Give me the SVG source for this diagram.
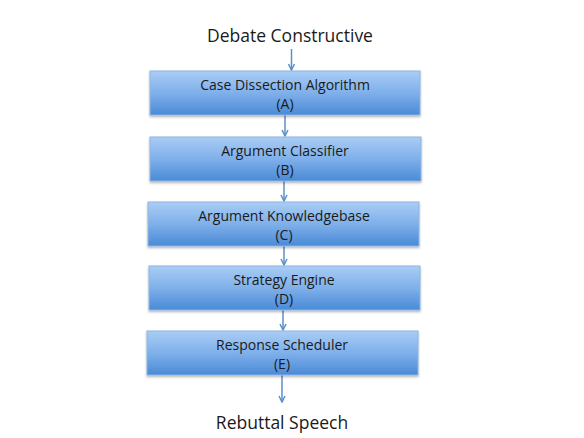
<svg xmlns="http://www.w3.org/2000/svg" width="584" height="438" viewBox="0 0 584 438">
<defs>
<linearGradient id="g" x1="0" y1="0" x2="0" y2="1">
<stop offset="0" stop-color="#a9cdf5"/>
<stop offset="0.5" stop-color="#7fb0ea"/>
<stop offset="1" stop-color="#4a8ad6"/>
</linearGradient>
<filter id="sh" x="-5%" y="-10%" width="110%" height="130%">
<feDropShadow dx="0" dy="1.5" stdDeviation="1" flood-color="#000" flood-opacity="0.3"/>
</filter>
<marker id="ah" markerWidth="8" markerHeight="8" refX="7" refY="4" orient="auto" markerUnits="userSpaceOnUse">
<path d="M1,1 L7,4 L1,7" fill="none" stroke="#5b8fc9" stroke-width="1.5"/>
</marker>
</defs>
<style>
.box{fill:url(#g);stroke:#8db5e4;stroke-width:1;filter:url(#sh)}
.t{font-family:"Open Sans","Liberation Sans",sans-serif;font-size:14px;fill:#1a1a1a;text-anchor:middle}
.big{font-family:"Open Sans","Liberation Sans",sans-serif;font-size:17.5px;fill:#1a1a1a;text-anchor:middle}
.c{stroke:#5b8fc9;stroke-width:1.5;fill:none;marker-end:url(#ah)}
</style>
<rect width="584" height="438" fill="#fff"/>
<g id="connectors">
<line class="c" x1="291.5" y1="49" x2="291.5" y2="70"/>
<line class="c" x1="285" y1="115" x2="285" y2="136"/>
<line class="c" x1="284" y1="181" x2="284" y2="201"/>
<line class="c" x1="284" y1="246" x2="284" y2="265"/>
<line class="c" x1="283" y1="310" x2="283" y2="330"/>
<line class="c" x1="282" y1="375" x2="282" y2="402"/>
</g>
<g id="start"><text class="big" x="290" y="42">Debate Constructive</text></g>
<g id="A"><rect class="box" x="150" y="71" width="270" height="44"/><text class="t" x="285" y="89.5">Case Dissection Algorithm</text><text class="t" x="285" y="108.5">(A)</text></g>
<g id="B"><rect class="box" x="150" y="137" width="271" height="44"/><text class="t" x="285" y="155.5">Argument Classifier</text><text class="t" x="285" y="174.5">(B)</text></g>
<g id="C"><rect class="box" x="148" y="202" width="271" height="44"/><text class="t" x="284" y="220.5">Argument Knowledgebase</text><text class="t" x="284" y="239.5">(C)</text></g>
<g id="D"><rect class="box" x="149" y="266" width="271" height="44"/><text class="t" x="284" y="284.5">Strategy Engine</text><text class="t" x="284" y="303.5">(D)</text></g>
<g id="E"><rect class="box" x="147" y="331" width="271" height="44"/><text class="t" x="282" y="349.5">Response Scheduler</text><text class="t" x="282" y="368.5">(E)</text></g>
<g id="end"><text class="big" x="282" y="429">Rebuttal Speech</text></g>
</svg>
